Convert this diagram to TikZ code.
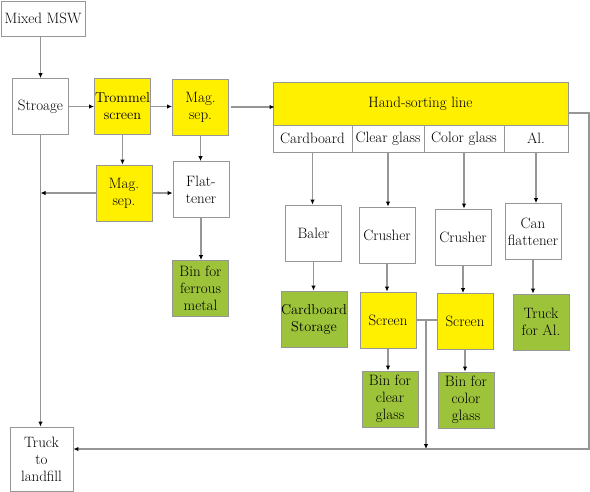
\documentclass[tikz,border=0pt]{standalone}
\usetikzlibrary{arrows.meta}
\usetikzlibrary{positioning}
\definecolor{sortyellow}{RGB}{255,240,0}
\definecolor{bingreen}{RGB}{157,195,59}
\definecolor{edgegray}{RGB}{150,150,150}
\tikzset{
    unit/.style={
           rectangle,
           draw=edgegray, line width=0.9pt,
           minimum width=56pt, minimum height=56pt,
           inner sep=0pt,
           align=center,
           font=\rmfamily\fontsize{15}{17}\selectfont,
           },
    machine/.style={unit, fill=sortyellow},
    bin/.style={unit, fill=bingreen},
    cell/.style={unit, minimum height=27pt, outer sep=0pt},
    link/.style={draw=edgegray, line width=1.2pt},
    flow/.style={link, -{Latex[black,length=5pt,width=4.5pt]}},
}

\begin{document}
\begin{tikzpicture}[x=1pt,y=-1pt]
    \useasboundingbox (0,0) rectangle (590,491);
    % recovery line
    \node[unit, minimum width=84pt, minimum height=35pt] (msw) at (43,18.5) {Mixed MSW};
    \node[unit] (stor) at (40.5,106.5) {Stroage};
    \node[machine, font=\rmfamily\fontsize{14.3}{17}\selectfont] (trom) at (122.5,106.5) {Trommel\\screen};
    \node[machine] (magA) at (200.5,107) {Mag.\\sep.};
    \node[machine, minimum width=295pt, minimum height=43pt] (hand) at (420.5,103.5) {Hand-sorting line};
    \node[cell, minimum width=79pt] (card) at (312.5,138.5) {Cardboard};
    \node[cell, minimum width=72pt] (clear) [right=0pt of card] {Clear glass};
    \node[cell, minimum width=80pt] (color) [right=0pt of clear] {Color glass};
    \node[cell, minimum width=64pt] (al) [right=0pt of color] {Al.};
    \node[machine] (magB) at (124,193) {Mag.\\sep.};
    \node[unit] (flat) at (201,189.5) {Flat-\\tener};
    \node[bin] (ferr) at (200.5,288.5) {Bin for\\ferrous\\metal};
    \node[unit] (baler) at (313.5,233) {Baler};
    \node[unit] (crushA) at (387,235) {Crusher};
    \node[unit] (crushB) at (463,237) {Crusher};
    \node[unit] (canf) at (533,231.5) {Can\\flattener};
    \node[bin, minimum width=66pt, font=\rmfamily\fontsize{14.3}{17}\selectfont] (cards) at (314,319) {Cardboard\\Storage};
    \node[machine] (scrA) at (388,320) {Screen};
    \node[machine] (scrB) at (465,321.5) {Screen};
    \node[bin] (truckal) at (541,322) {Truck\\for Al.};
    \node[bin] (binA) at (390,399) {Bin for\\clear\\glass};
    \node[bin] (binB) at (466,400) {Bin for\\color\\glass};
    \node[unit, minimum width=63pt, minimum height=64pt] (truck) at (41.5,459) {Truck\\to\\landfill};
    \coordinate (drop) at (426,449);
    \coordinate (rim) at (589,113);

    \draw[flow] (stor |- msw.south) -- (stor.north);
    \draw[flow] (stor) -- (trom);
    \draw[flow] (trom.east) -- (trom.east -| magA.west);
    \draw[flow] ([xshift=2pt]magA.east) -- ([xshift=2pt]magA.east -| hand.west);
    \draw[flow] (trom.south) -- (trom.south |- magB.north);
    \draw[flow] (magA.south) -- (magA.south |- flat.north);
    \draw[flow] (magB.west) -- (magB.west -| stor.south);
    \draw[flow] (magB.east) -- (magB.east -| flat.west);
    \draw[flow] (stor.south) -- (stor.south |- truck.north);
    \draw[flow] (flat.south) -- (flat.south |- ferr.north);
    \draw[flow] (card.south) -- (card.south |- baler.north);
    \draw[flow] (clear.south) -- (clear.south |- crushA.north);
    \draw[flow] (color.south) -- (color.south |- crushB.north);
    \draw[flow] (al.south) -- (al.south |- canf.north);
    \draw[flow] (baler.south) -- (baler.south |- cards.north);
    \draw[flow] (crushA.south) -- (crushA.south |- scrA.north);
    \draw[flow] (crushB.south) -- (crushB.south |- scrB.north);
    \draw[flow] (canf.south) -- (canf.south |- truckal.north);
    \draw[flow] (scrA.south) -- (scrA.south |- binA.north);
    \draw[flow] (scrB.south) -- (scrB.south |- binB.north);
    \draw[link] (scrA.east) -- (scrA.east -| scrB.west);
    \draw[flow] (scrA.east -| drop) -- (drop);
    \draw[flow] (hand.east |- rim) -- (rim) -- (rim |- drop) -- (truck.east |- drop);
\end{tikzpicture}
\end{document}
